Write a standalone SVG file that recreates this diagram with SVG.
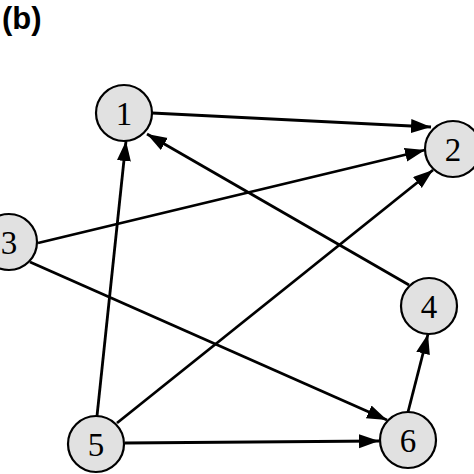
<svg xmlns="http://www.w3.org/2000/svg" width="474" height="474" viewBox="0 0 474 474">
  <style>
    .node circle { fill: #e1e1e1; stroke: #000; stroke-width: 2.2; }
    .node text { font-family: "Liberation Serif", "Times New Roman", serif; font-size: 33px; text-anchor: middle; fill: #000; }
    .edge { stroke: #000; stroke-width: 2.8; fill: none; marker-end: url(#arrow); }
    .title { font-family: "Liberation Sans", Arial, sans-serif; font-weight: bold; font-size: 31px; fill: #000; }
  </style>
  <defs>
    <marker id="arrow" markerUnits="userSpaceOnUse" markerWidth="22" markerHeight="16" refX="20" refY="7" orient="auto">
      <path d="M0,0 L20,7 L0,14 Z" fill="#000"/>
    </marker>
  </defs>
  <rect width="474" height="474" fill="#fff"/>
  <text class="title" x="2" y="29">(b)</text>
  <g id="edges">
    <line class="edge" x1="152" y1="113" x2="431" y2="127"/>
    <line class="edge" x1="38" y1="243" x2="425" y2="150"/>
    <line class="edge" x1="409" y1="285" x2="147" y2="134"/>
    <line class="edge" x1="97" y1="416" x2="126" y2="141"/>
    <line class="edge" x1="117" y1="423" x2="433" y2="170"/>
    <line class="edge" x1="125" y1="443" x2="379" y2="441"/>
    <line class="edge" x1="30" y1="262" x2="387" y2="420"/>
    <line class="edge" x1="408" y1="412" x2="428" y2="334"/>
  </g>
  <g id="node1" class="node"><circle cx="124" cy="113" r="28"/><text x="124" y="125">1</text></g>
  <g id="node2" class="node"><circle cx="453" cy="149" r="28"/><text x="453" y="161">2</text></g>
  <g id="node3" class="node"><circle cx="9" cy="242" r="28"/><text x="9" y="254">3</text></g>
  <g id="node4" class="node"><circle cx="429" cy="306" r="28"/><text x="429" y="318">4</text></g>
  <g id="node5" class="node"><circle cx="96" cy="444" r="28"/><text x="96" y="456">5</text></g>
  <g id="node6" class="node"><circle cx="408" cy="440" r="28"/><text x="408" y="452">6</text></g>
</svg>
